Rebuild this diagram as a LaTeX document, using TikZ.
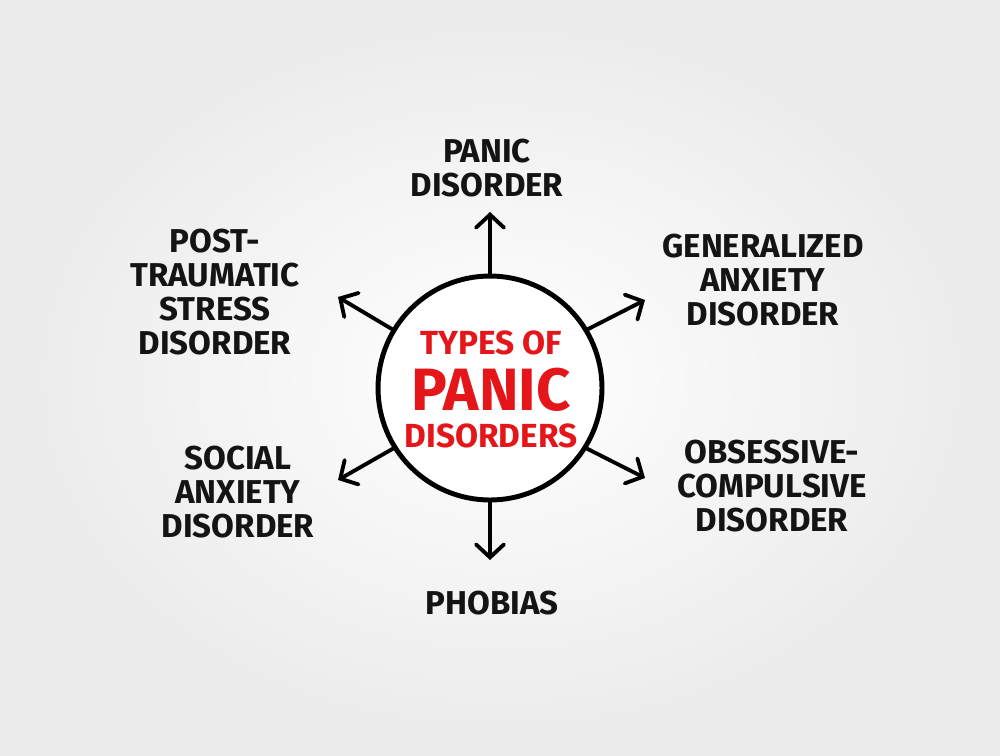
\documentclass[tikz,border=0pt]{standalone}
\usepackage{fontspec}
\setmainfont{Fira Sans}
\usetikzlibrary{arrows.meta,positioning}
\definecolor{markred}{RGB}{228,22,26}
\tikzset{
  topic/.style={align=center,text=black!92,font=\bfseries\fontsize{18.8}{19.5}\selectfont},
  hubtext/.style={text=markred,inner sep=0pt,font=\bfseries\fontsize{19}{20}\selectfont},
  spoke/.style={line width=2.2pt,line cap=round,-{Straight Barb[length=2.6mm,width=5.6mm,line cap=round]}},
}
\begin{document}
\begin{tikzpicture}[x=0.02cm,y=-0.02cm]
    \useasboundingbox (0,0) rectangle (1000,755);
    \shade[inner color=white,outer color=black!8] (0,0) rectangle (1000,755);
    % central circle
    \node[circle,draw,line width=2.8pt,fill=white,minimum size=4.48cm] (hub) at (490,388) {};
    \node[hubtext] (types) at (491,343) {TYPES OF};
    \node[hubtext,font=\bfseries\fontsize{34}{36}\selectfont] (panic) at (491,390) {PANIC};
    \node[hubtext] (disorders) at (491,436) {DISORDERS};
    % topics
    \node[topic] (panicdis) at (487,168) {PANIC\\DISORDER};
    \node[topic] (gad) at (763,280) {GENERALIZED\\ANXIETY\\DISORDER};
    \node[topic] (ptsd) at (215,292) {POST-\\TRAUMATIC\\STRESS\\DISORDER};
    \node[topic] (social) at (238,492) {SOCIAL\\ANXIETY\\DISORDER};
    \node[topic] (ocd) at (772,486) {OBSESSIVE-\\COMPULSIVE\\DISORDER};
    \node[topic] (phobias) at (492,603) {PHOBIAS};
    % arrow tips
    \coordinate (tipN) at (490,212);
    \coordinate (tipNE) at (645,300);
    \coordinate (tipSE) at (645,478);
    \coordinate (tipS) at (490,560);
    \coordinate (tipSW) at (338,480);
    \coordinate (tipNW) at (338,297);
    \draw[spoke] (hub.90) -- (tipN);
    \draw[spoke] (hub.31) -- (tipNE);
    \draw[spoke] (hub.-32) -- (tipSE);
    \draw[spoke] (hub.-90) -- (tipS);
    \draw[spoke] (hub.-148) -- (tipSW);
    \draw[spoke] (hub.149) -- (tipNW);
\end{tikzpicture}
\end{document}
